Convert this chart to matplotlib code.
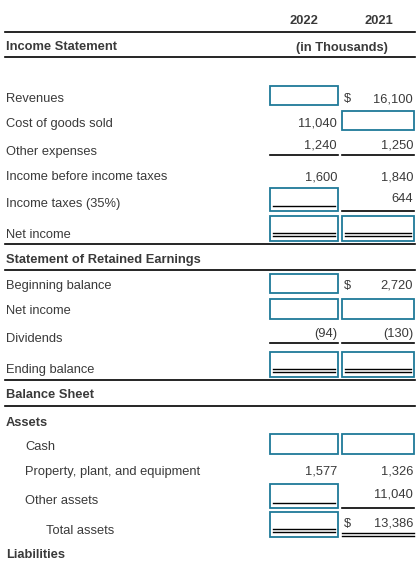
import matplotlib
matplotlib.use('Agg')
import matplotlib.pyplot as plt
from matplotlib.patches import Rectangle

plt.rcParams['font.family'] = ['Liberation Sans', 'DejaVu Sans']

# table content
years = ['2022', '2021']
row_labels = ['Revenues', 'Cost of goods sold', 'Other expenses', 'Income before income taxes',
              'Income taxes (35%)', 'Net income', 'Statement of Retained Earnings',
              'Beginning balance', 'Net income', 'Dividends', 'Ending balance',
              'Balance Sheet', 'Assets', 'Cash', 'Property, plant, and equipment',
              'Other assets', 'Total assets', 'Liabilities']
row_bold = [0, 0, 0, 0, 0, 0, 1, 0, 0, 0, 0, 1, 1, 0, 0, 0, 0, 1]
row_indent = [0, 0, 0, 0, 0, 0, 0, 0, 0, 0, 0, 0, 0, 1, 1, 1, 2, 0]
# None -> answer box, '' -> nothing
values_2022 = [None, '11,040', '1,240', '1,600', None, None, '', None, None, '(94)', None,
               '', '', None, '1,577', None, None, '']
values_2021 = ['16,100', None, '1,250', '1,840', '644', None, '', '2,720', None, '(130)', None,
               '', '', None, '1,326', '11,040', '13,386', '']
dollar_2022 = [0] * 18
dollar_2021 = [1, 0, 0, 0, 0, 0, 0, 1, 0, 0, 0, 0, 0, 0, 0, 0, 1, 0]
underline = [0, 0, 1, 0, 1, 2, 0, 0, 0, 1, 2, 0, 0, 0, 0, 1, 2, 0]

# layout (pixels)
label_y = [97, 122, 150, 175, 203, 234, 259, 285, 310, 338, 368, 394, 421, 445, 470, 499, 529, 554]
value_y = [97.5, 122, 143.5, 176, 197, 0, 0, 284, 0, 333, 0, 0, 0, 0, 470, 493, 522, 0]
cell_top = [86, 111, 134, 166, 188, 216, 0, 274, 299, 325, 352, 0, 0, 434, 460, 484, 512, 0]
cell_bot = [105, 130, 155, 185, 211, 241, 0, 293, 319, 343, 377, 0, 0, 454, 480, 508, 537, 0]
col_x = [(270, 338), (342, 414)]

txt = '#3a3a3a'
box_col = '#1f7a99'
fs = 9.3
dy = 1.5  # visual centre offset of text

fig = plt.figure(figsize=(4.2, 5.67), dpi=100)
ax = fig.add_axes([0, 0, 1, 1])
ax.set_xlim(0, 420)
ax.set_ylim(567, 0)
ax.axis('off')

ax.text(304, 20 + dy, years[0], ha='center', va='center', fontsize=fs, fontweight='bold', color=txt)
ax.text(379, 20 + dy, years[1], ha='center', va='center', fontsize=fs, fontweight='bold', color=txt)
ax.plot([5, 415], [32, 32], color='black', lw=1.2)
ax.text(6, 46 + dy, 'Income Statement', ha='left', va='center', fontsize=fs, fontweight='bold', color=txt)
ax.text(342, 46 + dy, '(in Thousands)', ha='center', va='center', fontsize=fs, fontweight='bold', color=txt)
ax.plot([5, 415], [57, 57], color='black', lw=1.2)

for line_y in [244, 270, 380, 406]:
    ax.plot([5, 415], [line_y, line_y], color='black', lw=1.2)

indent_x = [6, 25, 46]
for i, lab in enumerate(row_labels):
    ax.text(indent_x[row_indent[i]], label_y[i] + dy, lab, ha='left', va='center', fontsize=fs,
            fontweight='bold' if row_bold[i] else 'normal', color=txt)
    if row_bold[i]:
        continue
    top, bot = cell_top[i], cell_bot[i]
    for c, (vals, dol) in enumerate([(values_2022, dollar_2022), (values_2021, dollar_2021)]):
        x0, x1 = col_x[c]
        v = vals[i]
        if v is None:
            ax.add_patch(Rectangle((x0, top), x1 - x0, bot - top, fill=False,
                                   edgecolor=box_col, lw=1.3))
            ul_x0, ul_x1 = x0 + 3, x1 - 3
            if underline[i] == 1:
                ax.plot([ul_x0, ul_x1], [bot - 5, bot - 5], color='black', lw=1)
            elif underline[i] == 2:
                ax.plot([ul_x0, ul_x1], [bot - 8, bot - 8], color='black', lw=1)
                ax.plot([ul_x0, ul_x1], [bot - 5, bot - 5], color='black', lw=1)
        else:
            ty = value_y[i] + dy
            ax.text(x1 - 1, ty, v, ha='right', va='center', fontsize=fs, color=txt)
            if dol[i]:
                ax.text(x0 + 2, ty, '$', ha='left', va='center', fontsize=fs, color=txt)
            if underline[i] == 1:
                ax.plot([x0, x1], [bot, bot], color='black', lw=1.2)
            elif underline[i] == 2:
                ax.plot([x0, x1], [bot - 4, bot - 4], color='black', lw=1)
                ax.plot([x0, x1], [bot - 1.5, bot - 1.5], color='black', lw=1)

fig.savefig('out.png', dpi=100)
